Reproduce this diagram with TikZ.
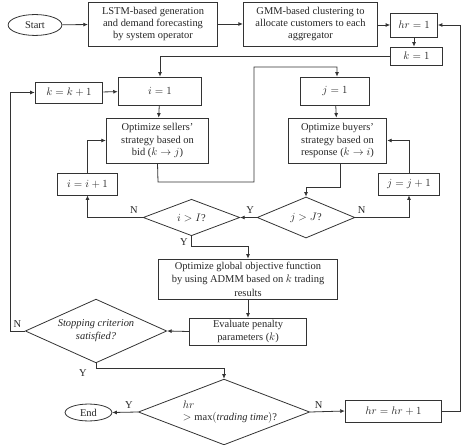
\documentclass[tikz,border=0pt]{standalone}
\usepackage{fontspec}
\setmainfont{Liberation Serif}
\usetikzlibrary{shapes.geometric,arrows.meta}
\begin{document}
\begin{tikzpicture}[x=1bp,y=-1bp,
  font=\fontsize{10.5}{12.5}\selectfont,
  every node/.style={text=black!85},
  box/.style={draw=black!80, line width=0.8bp, rectangle, inner sep=1bp, align=center},
  oval/.style={draw=black!80, line width=0.8bp, ellipse, inner sep=0pt},
  dia/.style={draw=black!80, line width=0.8bp, diamond, inner sep=0pt, align=center},
  arr/.style={draw=black!80, line width=0.8bp, -{Latex[length=4.5bp,width=4bp]}},
  lab/.style={font=\fontsize{10.5}{12}\selectfont}]
\useasboundingbox (0,0) rectangle (474,445);

\node[oval, minimum width=54, minimum height=21] (start) at (35,25) {Start};
\node[box, minimum width=130, minimum height=44] (lstm) at (153,24) {LSTM-based generation\\and demand forecasting\\by system operator};
\node[box, minimum width=135, minimum height=44] (gmm) at (310.5,24) {GMM-based clustering to\\allocate customers to each\\aggregator};
\node[box, minimum width=47, minimum height=24] (hr1) at (414,25) {$hr=1$};
\node[box, minimum width=52, minimum height=18] (k1) at (416.5,56) {$k=1$};
\node[box, minimum width=68, minimum height=21] (kk1) at (69,92.5) {$k=k+1$};
\node[box, minimum width=84, minimum height=28] (i1) at (160,91) {$i=1$};
\node[box, minimum width=70, minimum height=28] (j1) at (335,91) {$j=1$};
\node[box, minimum width=103, minimum height=45, font=\fontsize{10.5}{13}\selectfont] (sell) at (157.5,140.5) {Optimize sellers'\\strategy based on\\bid ($k\rightarrow j$)};
\node[box, minimum width=99, minimum height=45, font=\fontsize{10.5}{13}\selectfont] (buy) at (337.5,140.5) {Optimize buyers'\\strategy based on\\response ($k\rightarrow i$)};
\node[box, minimum width=61, minimum height=22] (ii1) at (87.5,184) {$i=i+1$};
\node[box, minimum width=62, minimum height=22] (jj1) at (409,184) {$j=j+1$};
\node[dia, minimum width=97, minimum height=35] (iI) at (191.5,217.5) {$i>I$?};
\node[dia, minimum width=98, minimum height=35] (jJ) at (306,217.5) {$j>J$?};
\node[box, minimum width=180, minimum height=40, font=\fontsize{10.5}{13.5}\selectfont] (glob) at (248,279) {Optimize global objective function\\by using ADMM based on $k$ trading\\results};
\node[box, minimum width=118, minimum height=27, font=\fontsize{10.5}{13}\selectfont] (eval) at (248,331.5) {Evaluate penalty\\parameters ($k$)};
\node[dia, minimum width=142, minimum height=64] (stop) at (96,331) {};
\node[font=\itshape\fontsize{10.5}{13}\selectfont, align=center] (stoptxt) at (96,331) {Stopping criterion\\satisfied?};
\node[dia, minimum width=172, minimum height=66] (hrd) at (224,412) {};
\node[align=left] (hrdtxt) at (230,412) {$hr$\\$>\max(\mathit{trading\ time})$?};
\node[oval, minimum width=47, minimum height=17] (end) at (88.5,412.5) {End};
\node[box, minimum width=97, minimum height=22] (hrr) at (393.5,411) {$hr=hr+1$};

\coordinate (c1) at (158,182);
\coordinate (c2) at (254,182);
\coordinate (c3) at (254,67);
\coordinate (c4) at (337,67);
\coordinate (c5) at (340,187);
\coordinate (c6) at (306,187);
\coordinate (c7) at (191.5,246);
\coordinate (c8) at (10,331);
\coordinate (c9) at (96,368);
\coordinate (c10) at (460,411);

\draw[arr] (start) -- (lstm);
\draw[arr] (lstm) -- (gmm);
\draw[arr] (gmm.east |- hr1.west) -- (hr1.west);
\draw[arr] (hr1.south) -- (hr1.south |- k1.north);
\draw[arr] (k1.west) -| (i1.north);
\draw[arr] (i1) -- (sell);
\draw[arr] (sell.south) -- (c1) -- (c2) -- (c3) -- (c4) -- (c4 |- j1.north);
\draw[arr] (j1) -- (buy);
\draw[arr] (c5 |- buy.south) -- (c5) -- (c6) -- (jJ.north);
\draw[arr] (jJ.west) -- node[lab, above, pos=0.4] {Y} (iI.east);
\draw[arr] (iI.west) -| node[lab, above, pos=0.08] {N} (ii1.south);
\draw[arr] (ii1.north) |- (sell.west);
\draw[arr] (jJ.east) -| node[lab, above, pos=0.06] {N} (jj1.south);
\draw[arr] (jj1.north) |- (buy.east);
\draw[arr] (iI.south) -- node[lab, left, pos=0.6] {Y} (c7) -| (glob.north);
\draw[arr] (glob) -- (eval);
\draw[arr] (eval.west) -- (stop.east);
\draw[arr] (stop.west) -- node[lab, above, pos=0.5] {N} (c8) |- (kk1.west);
\draw[arr] (kk1) -- (i1);
\draw[arr] (stop.south) -- (c9) -| (hrd.north);
\node[lab] (ylab) at (83,373) {Y};
\draw[arr] (hrd.west) -- node[lab, above, pos=0.35] {Y} (end.east);
\draw[arr] (hrd.east) -- node[lab, above, pos=0.25] {N} (hrr.west);
\draw[arr] (hrr.east) -- (c10) |- (hr1.east);
\end{tikzpicture}
\end{document}
